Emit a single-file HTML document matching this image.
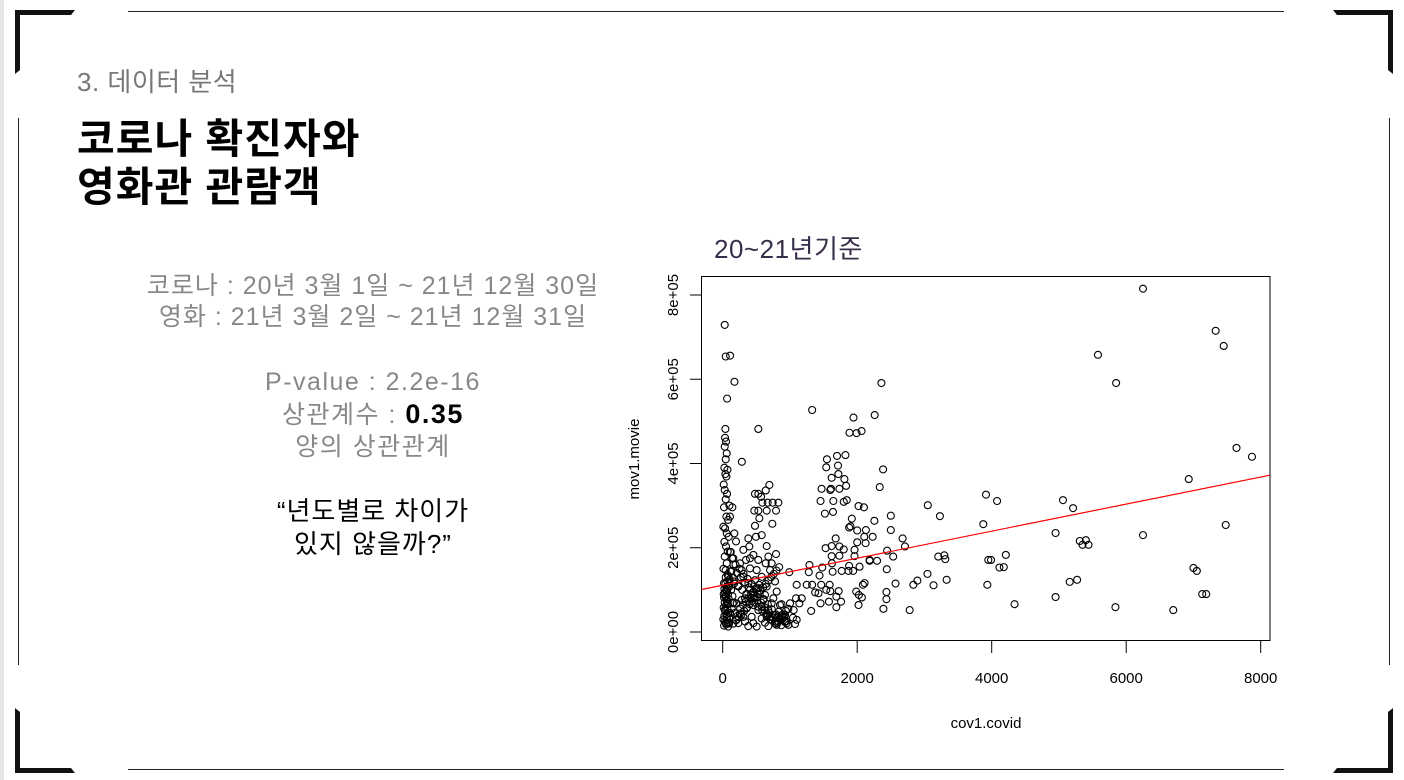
<!DOCTYPE html>
<html><head><meta charset="utf-8">
<style>
body{margin:0;width:1404px;height:780px;background:#fff;overflow:hidden;position:relative;font-family:"Liberation Sans","Noto Sans CJK KR",sans-serif}
.abs{position:absolute}
.c{text-align:center;width:600px;left:73px}
</style></head><body>
<div class="abs" style="left:0;top:0;width:4px;height:780px;background:#e6e6e6"></div>
<svg class="abs" style="left:0;top:0" width="1404" height="780">
<g fill="#111">
<polygon points="15,10 75,10 71,15 20,15 20,70 15,74"/>
<polygon points="1393,10 1333,10 1337,15 1388,15 1388,70 1393,74"/>
<polygon points="15,773 75,773 71,768 20,768 20,712 15,708"/>
<polygon points="1393,773 1333,773 1337,768 1388,768 1388,712 1393,708"/>
</g>
<line x1="128" y1="11.5" x2="1284" y2="11.5" stroke="#222" stroke-width="1"/>
<line x1="128" y1="769.5" x2="1284" y2="769.5" stroke="#222" stroke-width="1"/>
<line x1="18.5" y1="118" x2="18.5" y2="665" stroke="#222" stroke-width="1"/>
<line x1="1389.5" y1="118" x2="1389.5" y2="665" stroke="#222" stroke-width="1"/>
</svg>
<div class="abs" style="left:77px;top:62px;font-size:26px;letter-spacing:0.5px;color:#777">3. 데이터 분석</div>
<div class="abs" style="left:77px;top:115px;font-size:41px;letter-spacing:1px;font-weight:bold;line-height:48px;color:#000">코로나 확진자와<br>영화관 관람객</div>
<div class="abs c" style="top:271px;font-size:25px;letter-spacing:1px;line-height:31px;color:#888">코로나 : 20년 3월 1일 ~ 21년 12월 30일<br>영화 : 21년 3월 2일 ~ 21년 12월 31일</div>
<div class="abs c" style="top:366px;font-size:25px;letter-spacing:1.5px;line-height:32px;color:#888">P-value : 2.2e-16<br>상관계수 : <b style="color:#000;font-size:27px">0.35</b><br>양의 상관관계</div>
<div class="abs c" style="top:495px;font-size:26px;letter-spacing:1px;line-height:33px;color:#000">“년도별로 차이가<br>있지 않을까?”</div>
<div class="abs" style="left:714px;top:229px;font-size:26px;letter-spacing:0.5px;color:#3a2f4a">20~21년기준</div>
<svg class="abs" id="chart" style="left:0;top:0" width="1404" height="780"></svg>
<script>
const covid=[30,45,110,175,65,2360,1330,530,1945,2260,1885,1990,2065,285,1700,1825,1550,1540,1715,1720,1620,1810,1835,2385,2335,1470,1600,1610,1455,1645,1735,1845,1800,2020,2100,1520,1640,1920,1880,1900,2000,2130,2255,2105,2230,2000,2125,2500,2500,3050,3230,3915,4080,3875,2675,2710,2445,2535,2295,2440,2185,3205,3295,3310,3950,4115,3935,3330,3045,3135,2895,2835,2570,2780,2390,2435,2435,
1530,1620,1680,1735,1800,1620,1735,1960,1960,2035,2185,1880,1625,1290,1480,1770,1870,1940,1635,1440,1280,990,1100,1250,1330,1465,1590,1540,1725,1600,1425,1375,1175,1090,1455,1580,1690,1760,1690,1315,875,975,1055,1045,915,825,1140,1985,2025,2085,2110,2020,2070,
6250,7330,7450,5580,5850,7640,7870,6930,7480,5060,5210,5400,5310,5350,5440,6250,4950,7000,7050,7130,7190,6700,5840,4340,4950,5160,5270,4180,3990,4210,
40,35,50,30,60,45,25,70,40,55,30,65,45,20,55,80,35,60,90,25,50,75,30,60,45,85,20,55,40,75,30,60,45,80,15,100,10,110,12,100,15,110,10,95,
480,530,570,640,694,590,669,743,828,470,530,654,793,545,738,480,381,495,580,654,793,307,396,456,346,530,639,257,406,704,778,307,480,580,232,406,530,654,803,282,456,604,728,356,530,679,852,257,431,580,728,877,381,505,679,803,976,1076,1100,208,198,332,629,778,927,1001,952,
143,108,173,198,158,118,98,148,282,381,505,629,753,332,456,580,307,654,456,232,406,679,728,
20,50,80,35,65,95,25,55,85,40,70,15,45,75,30,60,90,20,50,80,35,65,25,55,85,40,70,100,45,75,
160,200,240,280,320,360,400,440,480,520,560,600,640,680,720,760,800,840,880,920,
180,220,260,300,340,380,420,460,500,540,580,620,660,700,740,780,820,860,900,940,
170,230,290,350,410,470,530,590,650,710,770,830,890,950,
210,270,330,390,450,510,570,630,690,750,810,870,930,
190,250,310,370,430,490,550,610,670,730,790,850,
120,140,160,130,150,170,125,145,165,135];
const movieK=[729,654,656,594,554,591,527,482,509,515,473,472,477,404,418,420,410,391,395,375,366,363,347,386,344,340,337,340,311,311,340,313,309,299,296,281,285,269,248,251,241,242,264,226,226,213,211,276,242,301,275,326,311,256,222,203,193,179,169,149,169,179,182,173,171,153,112,124,138,111,122,112,115,52,55,78,95,
199,204,222,203,196,180,181,195,180,155,171,157,163,159,153,145,145,145,143,134,142,142,112,112,112,112,112,100,97,97,92,94,80,80,68,72,84,72,59,50,66,55,52,34,36,36,68,96,88,112,116,64,82,
815,715,679,658,591,437,416,363,254,313,294,218,216,207,207,230,235,152,145,90,90,52,59,66,83,119,124,154,171,183,
482,461,452,440,424,410,390,385,375,369,337,328,315,296,274,266,246,234,226,214,203,191,179,163,147,131,116,100,84,68,52,36,21,13,350,300,250,190,150,120,90,45,30,20,
328,328,321,336,349,307,307,307,307,288,288,288,288,270,257,252,222,226,230,204,185,195,203,183,171,171,163,163,151,147,120,131,123,131,108,100,104,108,96,76,80,76,68,56,52,52,64,44,36,32,36,40,14,13,14,17,17,19,29,68,29,25,22,25,40,68,21,
296,274,234,215,175,143,108,68,147,116,147,88,80,80,64,60,36,36,21,21,175,179,163,
15,18,22,26,30,34,38,42,46,50,54,58,62,66,70,74,78,82,86,90,94,98,102,106,110,115,120,125,130,135,
20,28,35,42,50,58,66,74,82,90,98,106,114,122,130,138,146,154,30,24,
45,38,56,64,72,80,88,96,104,112,60,52,44,36,28,20,26,34,42,50,
120,110,100,90,80,70,60,50,40,30,40,48,34,26,
140,130,118,106,94,82,70,58,46,34,22,16,24,
160,150,138,126,114,102,90,78,66,54,42,30,
190,175,160,145,130,115,100,85,70,55];
// fitted regression line: movie = fitIntercept + fitSlope * covid
const fitIntercept=[111000];
const fitSlope=[32.1];
const xTicks=[0,2000,4000,6000,8000];
const yTicks=[0,200000,400000,600000,800000];
const yTickLabels=["0e+00","2e+05","4e+05","6e+05","8e+05"];
const NS="http://www.w3.org/2000/svg";
const svg=document.getElementById('chart');
const box={l:701.5,r:1270,t:276.5,b:640.5};
const xs=v=>722.7+v*0.06725;
const ys=v=>632-v*0.00042125;
function mk(tag,attrs){const e=document.createElementNS(NS,tag);for(const k in attrs)e.setAttribute(k,attrs[k]);svg.appendChild(e);return e;}
let r=mk('rect',{x:box.l,y:box.t,width:box.r-box.l,height:box.b-box.t,fill:'none',stroke:'#000','stroke-width':1});


xTicks.forEach(t=>{
 const l=mk('line',{x1:xs(t),x2:xs(t),y1:641,y2:653,stroke:'#000'});
 
 
 const tx=mk('text',{x:xs(t),y:683,'text-anchor':'middle','font-size':15,'font-family':'Liberation Sans, sans-serif'});
 tx.textContent=t;
 
 
});
yTicks.forEach((t,i)=>{
 const l=mk('line',{x1:690,x2:701.5,y1:ys(t),y2:ys(t),stroke:'#000'});
 
 
 const tx=mk('text',{x:678,y:ys(t),'text-anchor':'middle','font-size':15,'font-family':'Liberation Sans, sans-serif',transform:`rotate(-90 678 ${ys(t)})`});
 tx.textContent=yTickLabels[i];
 
 
});
let xl=mk('text',{x:986,y:728,'text-anchor':'middle','font-size':15,'font-family':'Liberation Sans, sans-serif'});
xl.textContent='cov1.covid';


let yl=mk('text',{x:639,y:459,'text-anchor':'middle','font-size':15,'font-family':'Liberation Sans, sans-serif',transform:'rotate(-90 639 459)'});
yl.textContent='mov1.movie';


const n=Math.min(covid.length,movieK.length);
for(let i=0;i<n;i++){
 const c=mk('circle',{cx:xs(covid[i]),cy:ys(movieK[i]*1000),r:3.5,fill:'none',stroke:'#000','stroke-width':1.1});
 
 
}
const x0=(box.l-722.7)/0.06725, x1=(box.r-722.7)/0.06725;
let ln=mk('line',{x1:box.l,y1:ys(fitIntercept[0]+fitSlope[0]*x0),x2:box.r,y2:ys(fitIntercept[0]+fitSlope[0]*x1),stroke:'#ff0000','stroke-width':1.2});


</script>
</body></html>
